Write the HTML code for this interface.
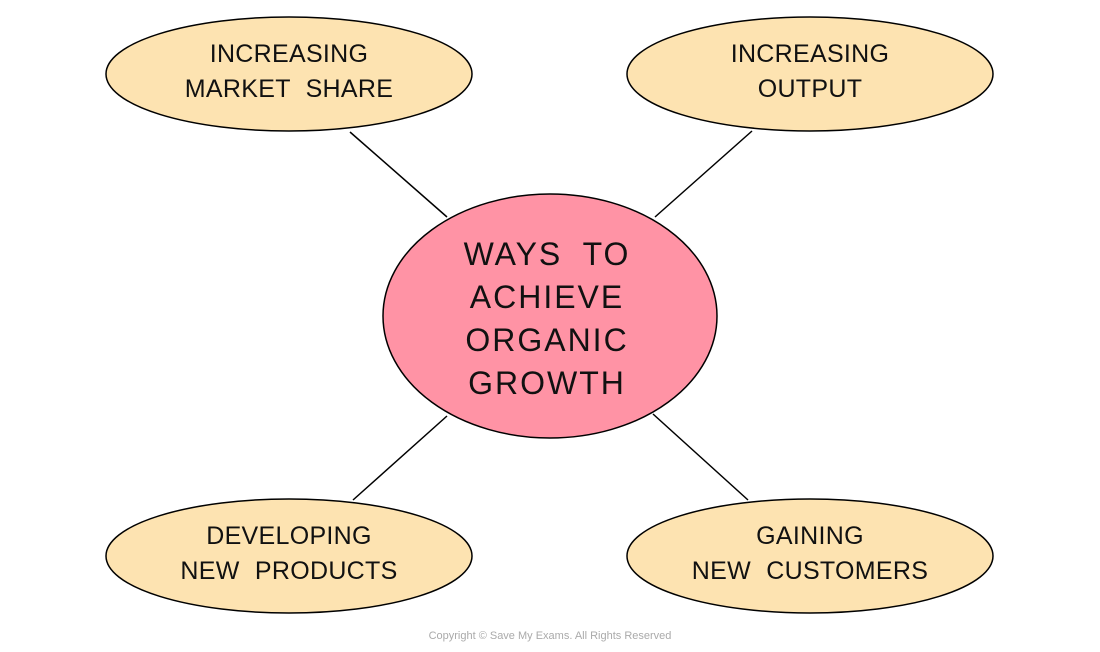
<!DOCTYPE html>
<html><head><style>html,body{margin:0;padding:0;background:#fff}</style></head>
<body>
<svg width="1100" height="647" viewBox="0 0 1100 647" xmlns="http://www.w3.org/2000/svg" font-family="'Liberation Sans', 'DejaVu Sans', sans-serif">
<g stroke="#000" stroke-width="1.5">
<line x1="350" y1="132" x2="447" y2="217"/>
<line x1="752" y1="131" x2="655" y2="217"/>
<line x1="447" y1="416" x2="353" y2="500"/>
<line x1="653" y1="414" x2="748" y2="500"/>
</g>
<g fill="#fde3b1" stroke="#000" stroke-width="1.5">
<ellipse cx="289" cy="74" rx="183" ry="57"/>
<ellipse cx="810" cy="74" rx="183" ry="57"/>
<ellipse cx="289" cy="556" rx="183" ry="57"/>
<ellipse cx="810" cy="556" rx="183" ry="57"/>
</g>
<ellipse cx="550" cy="316" rx="167" ry="122" fill="#ff93a5" stroke="#000" stroke-width="1.5"/>
<g font-size="25" text-anchor="middle" fill="#111" letter-spacing="0.3">
<text x="289" y="62">INCREASING</text>
<text x="289" y="97" word-spacing="8">MARKET SHARE</text>
<text x="810" y="62">INCREASING</text>
<text x="810" y="97">OUTPUT</text>
<text x="289" y="544">DEVELOPING</text>
<text x="289" y="579" word-spacing="8">NEW PRODUCTS</text>
<text x="810" y="544">GAINING</text>
<text x="810" y="579" word-spacing="8">NEW CUSTOMERS</text>
</g>
<g font-size="32" text-anchor="middle" fill="#111" letter-spacing="2">
<text x="547" y="265" word-spacing="10">WAYS TO</text>
<text x="547" y="308">ACHIEVE</text>
<text x="547" y="351">ORGANIC</text>
<text x="547" y="394">GROWTH</text>
</g>
<text x="550" y="639" font-size="11" text-anchor="middle" fill="#aaa">Copyright © Save My Exams. All Rights Reserved</text>
</svg>
</body></html>
